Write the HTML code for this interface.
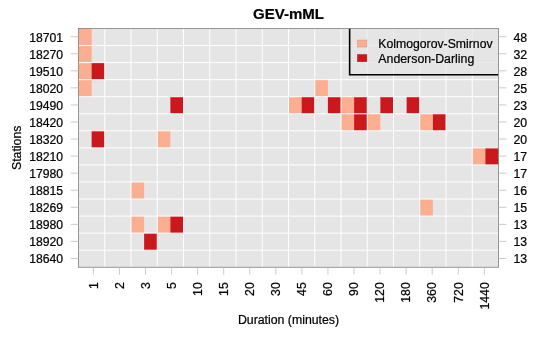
<!DOCTYPE html><html><head><meta charset="utf-8"><title>GEV-mML</title><style>html,body{margin:0;padding:0;background:#fff}svg{display:block}text{font-family:"Liberation Sans",Arial,Helvetica,sans-serif;fill:#000;stroke:#000;stroke-width:0.22px}</style></head><body>
<svg width="550" height="340" viewBox="0 0 550 340">
<rect width="550" height="340" fill="#fff"/>
<rect x="78.5" y="28.5" width="420.00" height="238.75" fill="#e5e5e5"/>
<rect x="78.50" y="28.50" width="13.12" height="17.05" fill="#fcae91"/>
<rect x="78.50" y="45.55" width="13.12" height="17.05" fill="#fcae91"/>
<rect x="78.50" y="62.61" width="13.12" height="17.05" fill="#fcae91"/>
<rect x="91.62" y="62.61" width="13.12" height="17.05" fill="#cb181d"/>
<rect x="78.50" y="79.66" width="13.12" height="17.05" fill="#fcae91"/>
<rect x="314.75" y="79.66" width="13.12" height="17.05" fill="#fcae91"/>
<rect x="170.38" y="96.71" width="13.12" height="17.05" fill="#cb181d"/>
<rect x="288.50" y="96.71" width="13.12" height="17.05" fill="#fcae91"/>
<rect x="301.62" y="96.71" width="13.12" height="17.05" fill="#cb181d"/>
<rect x="327.88" y="96.71" width="13.12" height="17.05" fill="#cb181d"/>
<rect x="341.00" y="96.71" width="13.12" height="17.05" fill="#fcae91"/>
<rect x="354.12" y="96.71" width="13.12" height="17.05" fill="#cb181d"/>
<rect x="380.38" y="96.71" width="13.12" height="17.05" fill="#cb181d"/>
<rect x="406.62" y="96.71" width="13.12" height="17.05" fill="#cb181d"/>
<rect x="341.00" y="113.77" width="13.12" height="17.05" fill="#fcae91"/>
<rect x="354.12" y="113.77" width="13.12" height="17.05" fill="#cb181d"/>
<rect x="367.25" y="113.77" width="13.12" height="17.05" fill="#fcae91"/>
<rect x="419.75" y="113.77" width="13.12" height="17.05" fill="#fcae91"/>
<rect x="432.88" y="113.77" width="13.12" height="17.05" fill="#cb181d"/>
<rect x="91.62" y="130.82" width="13.12" height="17.05" fill="#cb181d"/>
<rect x="157.25" y="130.82" width="13.12" height="17.05" fill="#fcae91"/>
<rect x="472.25" y="147.88" width="13.12" height="17.05" fill="#fcae91"/>
<rect x="485.38" y="147.88" width="13.12" height="17.05" fill="#cb181d"/>
<rect x="131.00" y="181.98" width="13.12" height="17.05" fill="#fcae91"/>
<rect x="419.75" y="199.04" width="13.12" height="17.05" fill="#fcae91"/>
<rect x="131.00" y="216.09" width="13.12" height="17.05" fill="#fcae91"/>
<rect x="157.25" y="216.09" width="13.12" height="17.05" fill="#fcae91"/>
<rect x="170.38" y="216.09" width="13.12" height="17.05" fill="#cb181d"/>
<rect x="144.12" y="233.14" width="13.12" height="17.05" fill="#cb181d"/>
<path d="M104.75 28.5V267.25M131.00 28.5V267.25M157.25 28.5V267.25M183.50 28.5V267.25M209.75 28.5V267.25M236.00 28.5V267.25M262.25 28.5V267.25M288.50 28.5V267.25M314.75 28.5V267.25M341.00 28.5V267.25M367.25 28.5V267.25M393.50 28.5V267.25M419.75 28.5V267.25M446.00 28.5V267.25M472.25 28.5V267.25M78.5 45.55H498.5M78.5 62.61H498.5M78.5 79.66H498.5M78.5 96.71H498.5M78.5 113.77H498.5M78.5 130.82H498.5M78.5 147.88H498.5M78.5 164.93H498.5M78.5 181.98H498.5M78.5 199.04H498.5M78.5 216.09H498.5M78.5 233.14H498.5M78.5 250.20H498.5" stroke="#fff" stroke-width="1" fill="none"/>
<rect x="349.65" y="28.5" width="148.85" height="46.20" fill="#e5e5e5" fill-opacity="0.68"/>
<path d="M349.65 28.5V74.7H498.5" fill="none" stroke="#000" stroke-width="1.6"/>
<rect x="357.6" y="40.1" width="9.2" height="6.9" fill="#fcae91" stroke="#e0907a" stroke-width="0.6"/>
<rect x="357.6" y="54.7" width="9.2" height="6.9" fill="#cb181d" stroke="#b01015" stroke-width="0.6"/>
<text x="378.3" y="48" font-size="12.3" textLength="114.3" lengthAdjust="spacingAndGlyphs">Kolmogorov-Smirnov</text>
<text x="378.3" y="63" font-size="12.3" textLength="96" lengthAdjust="spacingAndGlyphs">Anderson-Darling</text>
<rect x="78.5" y="28.5" width="420.00" height="238.75" fill="none" stroke="#7f7f7f" stroke-width="0.8"/>
<path d="M93.40 267.25v7.4M119.46 267.25v7.4M145.52 267.25v7.4M171.58 267.25v7.4M197.64 267.25v7.4M223.70 267.25v7.4M249.76 267.25v7.4M275.82 267.25v7.4M301.88 267.25v7.4M327.94 267.25v7.4M354.00 267.25v7.4M380.06 267.25v7.4M406.12 267.25v7.4M432.18 267.25v7.4M458.24 267.25v7.4M484.30 267.25v7.4M78.5 36.70h-7.8M498.5 36.70h7.8M78.5 53.76h-7.8M498.5 53.76h7.8M78.5 70.82h-7.8M498.5 70.82h7.8M78.5 87.88h-7.8M498.5 87.88h7.8M78.5 104.94h-7.8M498.5 104.94h7.8M78.5 122.00h-7.8M498.5 122.00h7.8M78.5 139.06h-7.8M498.5 139.06h7.8M78.5 156.12h-7.8M498.5 156.12h7.8M78.5 173.18h-7.8M498.5 173.18h7.8M78.5 190.24h-7.8M498.5 190.24h7.8M78.5 207.30h-7.8M498.5 207.30h7.8M78.5 224.36h-7.8M498.5 224.36h7.8M78.5 241.42h-7.8M498.5 241.42h7.8M78.5 258.48h-7.8M498.5 258.48h7.8" stroke="#bebebe" stroke-width="0.8" fill="none"/>
<text x="63.1" y="41.65" font-size="12.2" text-anchor="end">18701</text>
<text x="513.4" y="41.65" font-size="12.3">48</text>
<text x="63.1" y="58.71" font-size="12.2" text-anchor="end">18270</text>
<text x="513.4" y="58.71" font-size="12.3">32</text>
<text x="63.1" y="75.77" font-size="12.2" text-anchor="end">19510</text>
<text x="513.4" y="75.77" font-size="12.3">28</text>
<text x="63.1" y="92.83" font-size="12.2" text-anchor="end">18020</text>
<text x="513.4" y="92.83" font-size="12.3">25</text>
<text x="63.1" y="109.89" font-size="12.2" text-anchor="end">19490</text>
<text x="513.4" y="109.89" font-size="12.3">23</text>
<text x="63.1" y="126.95" font-size="12.2" text-anchor="end">18420</text>
<text x="513.4" y="126.95" font-size="12.3">20</text>
<text x="63.1" y="144.01" font-size="12.2" text-anchor="end">18320</text>
<text x="513.4" y="144.01" font-size="12.3">20</text>
<text x="63.1" y="161.07" font-size="12.2" text-anchor="end">18210</text>
<text x="513.4" y="161.07" font-size="12.3">17</text>
<text x="63.1" y="178.13" font-size="12.2" text-anchor="end">17980</text>
<text x="513.4" y="178.13" font-size="12.3">17</text>
<text x="63.1" y="195.19" font-size="12.2" text-anchor="end">18815</text>
<text x="513.4" y="195.19" font-size="12.3">16</text>
<text x="63.1" y="212.25" font-size="12.2" text-anchor="end">18269</text>
<text x="513.4" y="212.25" font-size="12.3">15</text>
<text x="63.1" y="229.31" font-size="12.2" text-anchor="end">18980</text>
<text x="513.4" y="229.31" font-size="12.3">13</text>
<text x="63.1" y="246.37" font-size="12.2" text-anchor="end">18920</text>
<text x="513.4" y="246.37" font-size="12.3">13</text>
<text x="63.1" y="263.43" font-size="12.2" text-anchor="end">18640</text>
<text x="513.4" y="263.43" font-size="12.3">13</text>
<text transform="translate(97.70 282.2) rotate(-90)" font-size="12.3" text-anchor="end">1</text>
<text transform="translate(123.76 282.2) rotate(-90)" font-size="12.3" text-anchor="end">2</text>
<text transform="translate(149.82 282.2) rotate(-90)" font-size="12.3" text-anchor="end">3</text>
<text transform="translate(175.88 282.2) rotate(-90)" font-size="12.3" text-anchor="end">5</text>
<text transform="translate(201.94 282.2) rotate(-90)" font-size="12.3" text-anchor="end">10</text>
<text transform="translate(228.00 282.2) rotate(-90)" font-size="12.3" text-anchor="end">15</text>
<text transform="translate(254.06 282.2) rotate(-90)" font-size="12.3" text-anchor="end">20</text>
<text transform="translate(280.12 282.2) rotate(-90)" font-size="12.3" text-anchor="end">30</text>
<text transform="translate(306.18 282.2) rotate(-90)" font-size="12.3" text-anchor="end">45</text>
<text transform="translate(332.24 282.2) rotate(-90)" font-size="12.3" text-anchor="end">60</text>
<text transform="translate(358.30 282.2) rotate(-90)" font-size="12.3" text-anchor="end">90</text>
<text transform="translate(384.36 282.2) rotate(-90)" font-size="12.3" text-anchor="end">120</text>
<text transform="translate(410.42 282.2) rotate(-90)" font-size="12.3" text-anchor="end">180</text>
<text transform="translate(436.48 282.2) rotate(-90)" font-size="12.3" text-anchor="end">360</text>
<text transform="translate(462.54 282.2) rotate(-90)" font-size="12.3" text-anchor="end">720</text>
<text transform="translate(488.60 282.2) rotate(-90)" font-size="12.3" text-anchor="end">1440</text>
<text x="288.5" y="19.2" font-size="15" font-weight="bold" text-anchor="middle">GEV-mML</text>
<text x="288.5" y="324" font-size="12.3" text-anchor="middle">Duration (minutes)</text>
<text transform="translate(21 147.8) rotate(-90)" font-size="12.3" text-anchor="middle">Stations</text>
</svg></body></html>
